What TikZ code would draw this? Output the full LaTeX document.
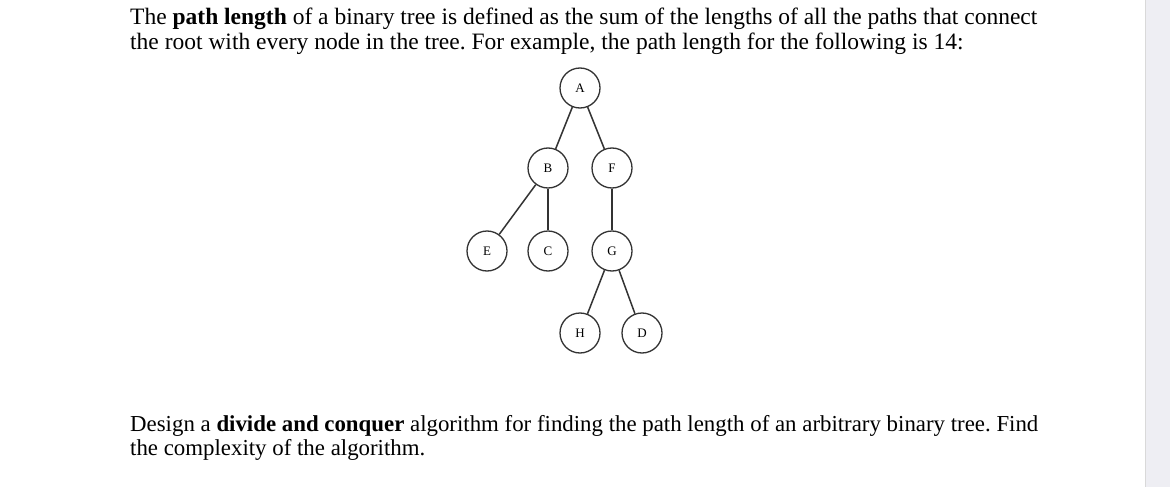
\documentclass[tikz,border=0pt]{standalone}
\usepackage{fontspec}
\setmainfont{Liberation Serif}
\definecolor{strip}{HTML}{EEEEF3}
\begin{document}
\frenchspacing
\begin{tikzpicture}[x=1pt,y=-1pt,
  tn/.style={circle,draw=black!80,line width=1.3pt,minimum size=40pt,inner sep=0pt,font=\fontsize{13}{13}\selectfont},
  edge/.style={draw=black!80,line width=1.5pt},
  txt/.style={anchor=base west,inner sep=0pt,font=\fontsize{23.5}{24}\selectfont},
  txtb/.style={anchor=base west,inner sep=0pt,font=\fontsize{22.85}{24}\selectfont}]
\useasboundingbox (0,0) rectangle (1170,487);
\fill[white] (0,0) rectangle (1145,487);
\fill[strip] (1146,0) rectangle (1170,487);
\draw[black!15,line width=1.5pt] (1145.5,0) -- (1145.5,487);
\node[txt] (t1) at (130,25) {The \textbf{path length} of a binary tree is defined as the sum of the lengths of all the paths that connect};
\node[txt] (t2) at (130,49) {the root with every node in the tree. For example, the path length for the following is 14:};
\node[txtb] (t3) at (130,431) {Design a \textbf{divide and conquer} algorithm for finding the path length of an arbitrary binary tree. Find};
\node[txtb] (t4) at (130,455) {the complexity of the algorithm.};
\node[tn] (A) at (580,88) {A};
\node[tn] (B) at (548,168) {B};
\node[tn] (F) at (612,168) {F};
\node[tn] (E) at (487,251) {E};
\node[tn] (C) at (548,251) {C};
\node[tn] (G) at (612,251) {G};
\node[tn] (H) at (580,333) {H};
\node[tn] (D) at (642,333) {D};
\draw[edge] (A) -- (B); \draw[edge] (A) -- (F);
\draw[edge] (B) -- (E); \draw[edge] (B) -- (C);
\draw[edge] (F) -- (G);
\draw[edge] (G) -- (H); \draw[edge] (G) -- (D);
\end{tikzpicture}
\end{document}
